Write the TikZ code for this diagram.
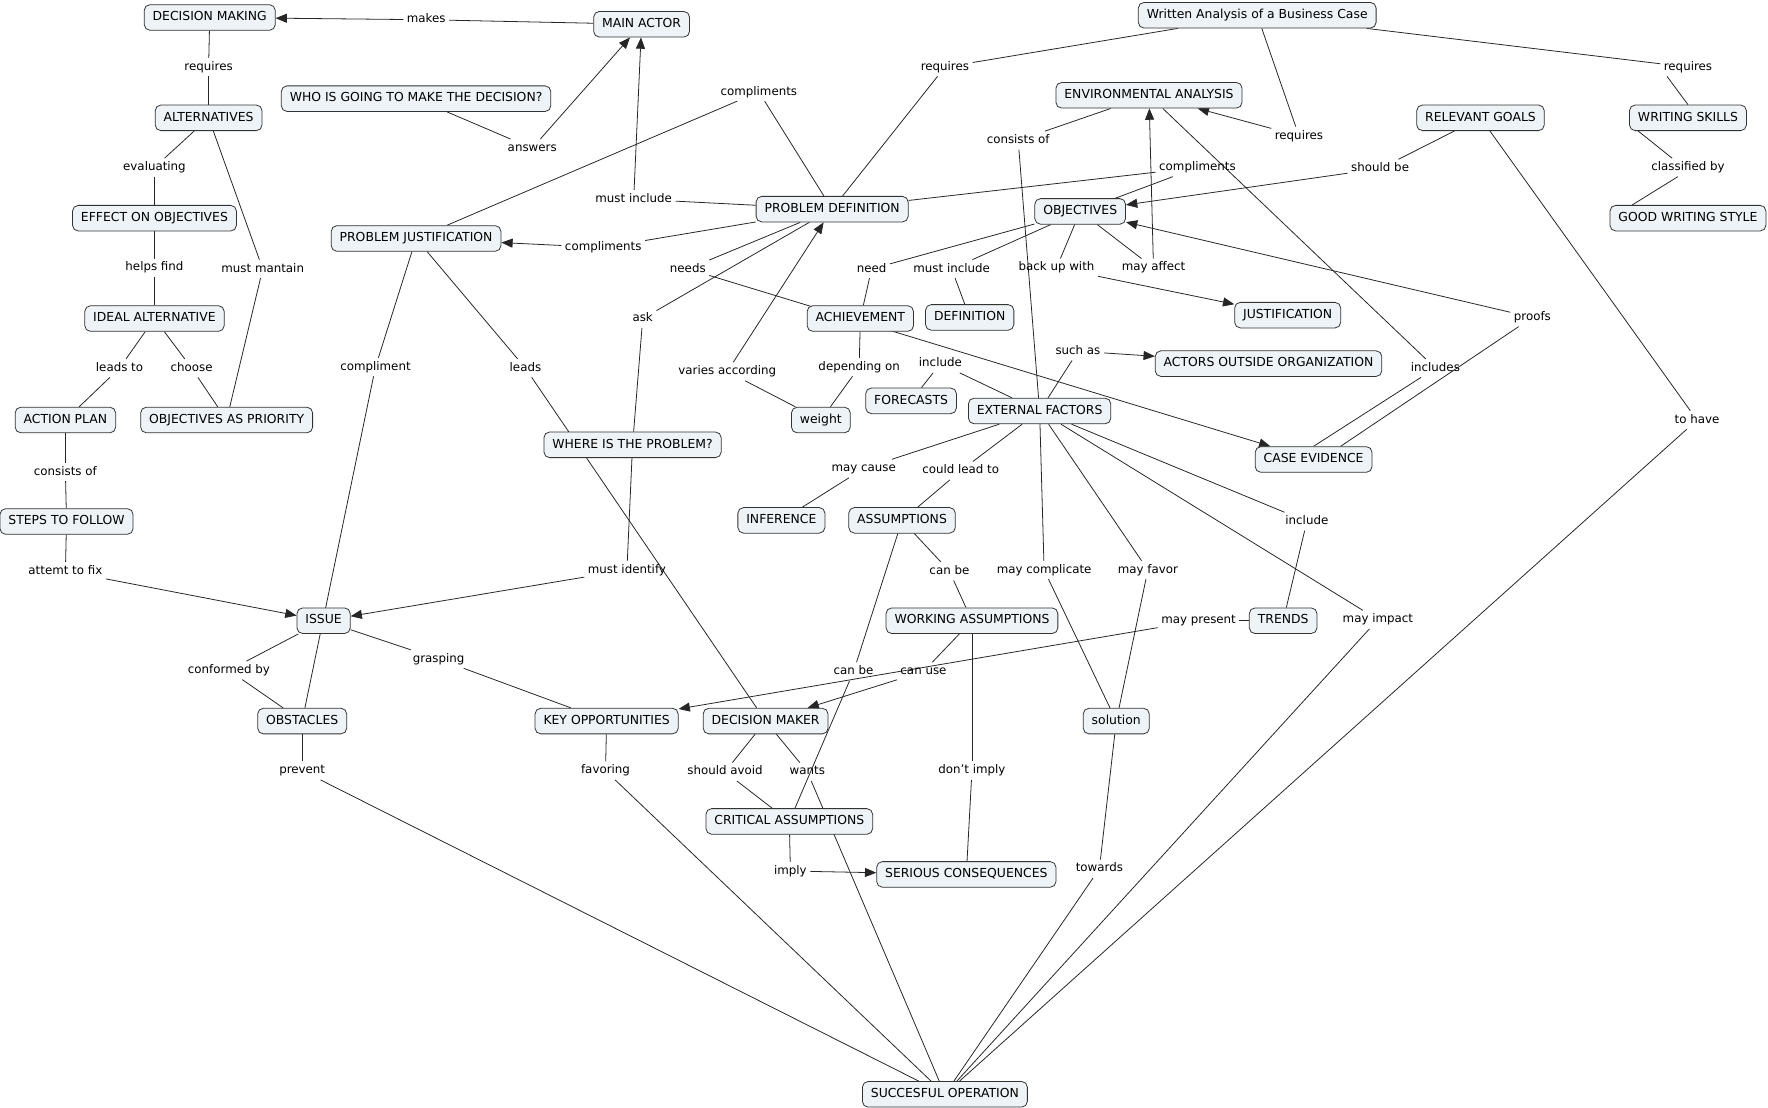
\documentclass[tikz,border=0pt]{standalone}
\usepackage{fontspec}
\setmainfont{DejaVu Sans}
\usetikzlibrary{arrows.meta,backgrounds}
\definecolor{cfill}{RGB}{237,243,246}
\tikzset{
  concept/.style={draw=black!80, fill=cfill, rounded corners=5pt, line width=0.7pt,
    font=\fontsize{11}{12}\selectfont, text height=8pt, text depth=2.3pt,
    inner xsep=7.5pt, inner ysep=6.2pt},
  link/.style={font=\fontsize{10.5}{12}\selectfont, inner sep=3pt, text height=7.8pt, text depth=2.2pt},
  conn/.style={draw=black!85, line width=0.7pt},
  arr/.style={conn, -{Triangle[length=10pt,width=8pt]}},
}
\begin{document}
\begin{tikzpicture}[x=1pt,y=-1pt]
\useasboundingbox (0,-1.5) rectangle (1568,981.1);
% concepts
\node[concept] (dm) at (186,14) {DECISION MAKING};
\node[concept] (ma) at (569,20) {MAIN ACTOR};
\node[concept] (wa) at (1115,12) {Written Analysis of a Business Case};
\node[concept] (who) at (369,86) {WHO IS GOING TO MAKE THE DECISION?};
\node[concept] (alt) at (185,103) {ALTERNATIVES};
\node[concept] (env) at (1019,83) {ENVIRONMENTAL ANALYSIS};
\node[concept] (rg) at (1313,103) {RELEVANT GOALS};
\node[concept] (ws) at (1497,103) {WRITING SKILLS};
\node[concept] (gws) at (1497,192) {GOOD WRITING STYLE};
\node[concept] (eff) at (137,192) {EFFECT ON OBJECTIVES};
\node[concept] (pd) at (738,184) {PROBLEM DEFINITION};
\node[concept] (obj) at (958,186) {OBJECTIVES};
\node[concept] (pj) at (369,210) {PROBLEM JUSTIFICATION};
\node[concept] (ideal) at (137,281) {IDEAL ALTERNATIVE};
\node[concept] (ach) at (763,281) {ACHIEVEMENT};
\node[concept] (def) at (860,280) {DEFINITION};
\node[concept] (just) at (1142,278) {JUSTIFICATION};
\node[concept] (actors) at (1125,321) {ACTORS OUTSIDE ORGANIZATION};
\node[concept] (fore) at (808,354) {FORECASTS};
\node[concept] (ext) at (922,363) {EXTERNAL FACTORS};
\node[concept] (weight) at (728,371) {weight};
\node[concept] (ap) at (58,371) {ACTION PLAN};
\node[concept] (oap) at (201,371) {OBJECTIVES AS PRIORITY};
\node[concept] (where) at (561,393) {WHERE IS THE PROBLEM?};
\node[concept] (ce) at (1165,406) {CASE EVIDENCE};
\node[concept] (inf) at (693,460) {INFERENCE};
\node[concept] (ass) at (800,460) {ASSUMPTIONS};
\node[concept] (steps) at (59,461) {STEPS TO FOLLOW};
\node[concept] (issue) at (287,549) {ISSUE};
\node[concept] (work) at (862,549) {WORKING ASSUMPTIONS};
\node[concept] (trends) at (1138,549) {TRENDS};
\node[concept] (obst) at (268,638) {OBSTACLES};
\node[concept] (keyop) at (538,638) {KEY OPPORTUNITIES};
\node[concept] (dmk) at (679,638) {DECISION MAKER};
\node[concept] (sol) at (990,638) {solution};
\node[concept] (crit) at (700,727) {CRITICAL ASSUMPTIONS};
\node[concept] (ser) at (857,774) {SERIOUS CONSEQUENCES};
\node[concept] (so) at (838,969) {SUCCESFUL OPERATION};
% linking phrases
\node[link] (lMakes) at (378,16) {makes};
\node[link] (lReqA) at (185,58) {requires};
\node[link] (lAns) at (472,130) {answers};
\node[link] (lCompA) at (673,80) {compliments};
\node[link] (lReqB) at (838,58) {requires};
\node[link] (lReqC) at (1152,119) {requires};
\node[link] (lReqD) at (1497,58) {requires};
\node[link] (lCons) at (903,123) {consists of};
\node[link] (lEval) at (137,147) {evaluating};
\node[link] (lCompB) at (1062,147) {compliments};
\node[link] (lShould) at (1224,148) {should be};
\node[link] (lClass) at (1497,147) {classified by};
\node[link] (lMustA) at (562,175) {must include};
\node[link] (lCompC) at (535,218) {compliments};
\node[link] (lNeeds) at (610,237) {needs};
\node[link] (lNeed) at (773,237) {need};
\node[link] (lMustB) at (844,237) {must include};
\node[link] (lBack) at (937,236) {back up with};
\node[link] (lAffect) at (1023,236) {may affect};
\node[link] (lHelps) at (137,236) {helps find};
\node[link] (lMaint) at (233,237) {must mantain};
\node[link] (lAsk) at (570,281) {ask};
\node[link] (lProofs) at (1359,280) {proofs};
\node[link] (lSuch) at (956,310) {such as};
\node[link] (lCompl) at (333,324) {compliment};
\node[link] (lLeads) at (466,325) {leads};
\node[link] (lLeadsTo) at (106,325) {leads to};
\node[link] (lChoose) at (170,325) {choose};
\node[link] (lVaries) at (645,328) {varies according};
\node[link] (lDepend) at (762,324) {depending on};
\node[link] (lIncA) at (834,321) {include};
\node[link] (lIncludes) at (1273,325) {includes};
\node[link] (lToHave) at (1505,371) {to have};
\node[link] (lConsB) at (58,417) {consists of};
\node[link] (lCause) at (766,414) {may cause};
\node[link] (lCould) at (852,416) {could lead to};
\node[link] (lIncB) at (1159,461) {include};
\node[link] (lAttemt) at (58,505) {attemt to fix};
\node[link] (lIdent) at (556,504) {must identify};
\node[link] (lCanA) at (842,505) {can be};
\node[link] (lCompli) at (926,504) {may complicate};
\node[link] (lFavor) at (1018,504) {may favor};
\node[link] (lPresent) at (1063,549) {may present};
\node[link] (lImpact) at (1222,548) {may impact};
\node[link] (lConf) at (203,593) {conformed by};
\node[link] (lGrasp) at (389,583) {grasping};
\node[link] (lCanB) at (757,594) {can be};
\node[link] (lCanUse) at (819,594) {can use};
\node[link] (lPrevent) at (268,682) {prevent};
\node[link] (lFavoring) at (537,682) {favoring};
\node[link] (lAvoid) at (643,683) {should avoid};
\node[link] (lWants) at (716,683) {wants};
\node[link] (lDont) at (862,682) {don't imply};
\node[link] (lImply) at (701,771) {imply};
\node[link] (lTowards) at (975,769) {towards};
\begin{scope}[on background layer]
\fill[white] (0,-1.5) rectangle (1568,981.1);
\draw[conn] (ma) -- (lMakes); \draw[arr] (lMakes) -- (dm);
\draw[conn] (dm) -- (lReqA); \draw[conn] (lReqA) -- (alt);
\draw[conn] (who) -- (lAns); \draw[arr] (lAns) -- (ma);
\draw[conn] (pj) -- (lCompA); \draw[conn] (lCompA) -- (pd);
\draw[conn] (wa) -- (lReqB); \draw[conn] (lReqB) -- (pd);
\draw[conn] (wa) -- (lReqC); \draw[arr] (lReqC) -- (env);
\draw[conn] (wa) -- (lReqD); \draw[conn] ([xshift=6pt]lReqD.south west) -- (ws.north);
\draw[conn] (env) -- (lCons); \draw[conn] (lCons) -- (ext);
\draw[conn] (alt) -- (lEval); \draw[conn] (lEval) -- (eff);
\draw[conn] (pd) -- (lCompB); \draw[conn] (lCompB) -- (obj);
\draw[conn] (rg) -- (lShould); \draw[arr] (lShould) -- (obj);
\draw[conn] ([xshift=8pt]ws.south west) -- ([xshift=-14pt]lClass.north);
\draw[conn] ([xshift=-9pt]lClass.south) -- ([xshift=20pt]gws.north west);
\draw[conn] (pd) -- (lMustA); \draw[arr] (lMustA) -- (ma);
\draw[conn] (pd) -- (lCompC); \draw[arr] (lCompC) -- (pj);
\draw[conn] (pd) -- (lNeeds); \draw[arr] (lNeeds) -- (ce);
\draw[conn] (obj) -- (lNeed); \draw[conn] (lNeed) -- (ach);
\draw[conn] (obj) -- (lMustB); \draw[conn] (lMustB) -- (def);
\draw[conn] (obj) -- (lBack); \draw[arr] (lBack) -- (just);
\draw[conn] (obj) -- (lAffect); \draw[arr] (lAffect) -- (env);
\draw[conn] (eff) -- (lHelps); \draw[conn] (lHelps) -- (ideal);
\draw[conn] (alt) -- (lMaint); \draw[conn] (lMaint) -- (oap);
\draw[conn] (where) -- (lAsk); \draw[conn] (lAsk) -- (pd);
\draw[conn] (ce.26) -- (lProofs); \draw[arr] (lProofs) -- (obj);
\draw[conn] (env) -- (lIncludes); \draw[conn] (lIncludes) -- (ce.north);
\draw[conn] (ext) -- (lSuch); \draw[arr] (lSuch) -- (actors);
\draw[conn] (pj) -- (lCompl); \draw[conn] (lCompl) -- (obst);
\draw[conn] (pj) -- (lLeads); \draw[conn] (lLeads) -- (dmk);
\draw[conn] (ideal) -- (lLeadsTo); \draw[conn] (lLeadsTo) -- (ap);
\draw[conn] (ideal) -- (lChoose); \draw[conn] (lChoose) -- (oap);
\draw[conn] (weight) -- (lVaries); \draw[arr] (lVaries) -- (pd);
\draw[conn] (ach) -- (lDepend); \draw[conn] (lDepend) -- (weight);
\draw[conn] (ext) -- (lIncA); \draw[conn] (lIncA) -- (fore);
\draw[conn] (rg) -- (lToHave); \draw[conn] (lToHave) -- (so);
\draw[conn] (ap) -- (lConsB); \draw[conn] (lConsB) -- (steps);
\draw[conn] (ext) -- (lCause); \draw[conn] (lCause) -- (inf);
\draw[conn] (ext) -- (lCould); \draw[conn] (lCould) -- (ass);
\draw[conn] (ext) -- (lIncB); \draw[conn] (lIncB) -- (trends);
\draw[conn] (steps) -- (lAttemt); \draw[arr] (lAttemt) -- (issue);
\draw[conn] (where) -- (lIdent); \draw[arr] (lIdent) -- (issue);
\draw[conn] (ass) -- (lCanA); \draw[conn] (lCanA) -- (work);
\draw[conn] (ext) -- (lCompli); \draw[conn] (lCompli) -- (sol);
\draw[conn] (ext) -- (lFavor); \draw[conn] (lFavor) -- (sol);
\draw[conn] (trends) -- (lPresent); \draw[arr] (lPresent) -- (keyop);
\draw[conn] (ext) -- (lImpact); \draw[conn] (lImpact) -- (so);
\draw[conn] (issue) -- (lConf); \draw[conn] (lConf) -- (obst);
\draw[conn] (issue) -- (lGrasp); \draw[conn] (lGrasp) -- (keyop);
\draw[conn] (ass) -- (lCanB); \draw[conn] (lCanB) -- (crit);
\draw[conn] (work) -- (lCanUse); \draw[arr] (lCanUse) -- (dmk);
\draw[conn] (obst) -- (lPrevent); \draw[conn] (lPrevent) -- (so);
\draw[conn] (keyop) -- (lFavoring); \draw[conn] (lFavoring) -- (so);
\draw[conn] (dmk) -- (lAvoid); \draw[conn] (lAvoid) -- (crit);
\draw[conn] (dmk) -- (lWants); \draw[conn] (lWants) -- (so);
\draw[conn] (work) -- (lDont); \draw[conn] (lDont) -- (ser);
\draw[conn] (crit) -- (lImply); \draw[arr] (lImply) -- (ser);
\draw[conn] (sol) -- (lTowards); \draw[conn] (lTowards) -- (so);
\end{scope}
\end{tikzpicture}
\end{document}
